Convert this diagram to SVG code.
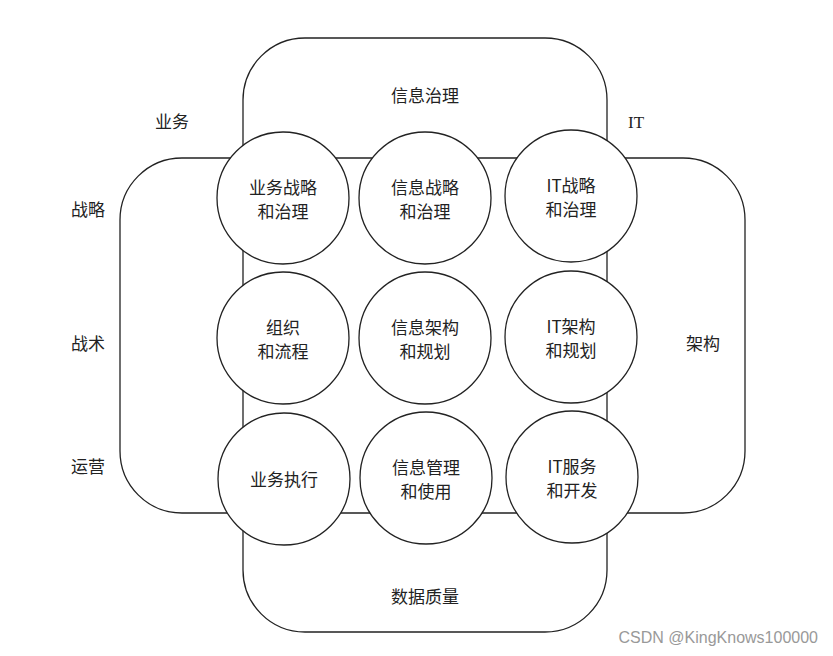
<svg xmlns="http://www.w3.org/2000/svg" width="833" height="656" viewBox="0 0 833 656">
<style>
.f{fill:none;stroke:#222;stroke-width:1.3}
.c{fill:#fff;stroke:#222;stroke-width:1.3}
text{font-family:"Noto Sans CJK SC","Liberation Serif",serif;font-size:17px;fill:#222;text-anchor:middle}
.w{font-family:"Liberation Sans",sans-serif;fill:#999;font-size:16px;text-anchor:end}
</style>
<rect width="833" height="656" fill="#fff"/>
<g id="frames">
<rect id="info" class="f" x="243" y="38" width="364" height="594" rx="62"/>
<rect id="rows" class="f" x="120" y="158" width="625" height="355" rx="62"/>
</g>
<g id="labels">
<text x="425" y="102">信息治理</text>
<text x="425" y="603">数据质量</text>
<text x="172" y="128">业务</text>
<text x="636" y="128" style="font-family:'Liberation Serif',serif">IT</text>
<text x="88" y="216">战略</text>
<text x="88" y="350">战术</text>
<text x="88" y="473">运营</text>
<text x="703" y="350">架构</text>
</g>
<g id="n1"><circle class="c" cx="283" cy="198" r="66"/><text x="283" y="194">业务战略</text><text x="283" y="218">和治理</text></g>
<g id="n2"><circle class="c" cx="425" cy="198" r="66"/><text x="425" y="194">信息战略</text><text x="425" y="218">和治理</text></g>
<g id="n3"><circle class="c" cx="571" cy="196" r="66"/><text x="571" y="192">IT战略</text><text x="571" y="216">和治理</text></g>
<g id="n4"><circle class="c" cx="283" cy="338" r="66"/><text x="283" y="334">组织</text><text x="283" y="358">和流程</text></g>
<g id="n5"><circle class="c" cx="425" cy="338" r="66"/><text x="425" y="334">信息架构</text><text x="425" y="358">和规划</text></g>
<g id="n6"><circle class="c" cx="571" cy="337" r="66"/><text x="571" y="333">IT架构</text><text x="571" y="357">和规划</text></g>
<g id="n7"><circle class="c" cx="284" cy="479" r="66"/><text x="284" y="486">业务执行</text></g>
<g id="n8"><circle class="c" cx="426" cy="478" r="66"/><text x="426" y="474">信息管理</text><text x="426" y="498">和使用</text></g>
<g id="n9"><circle class="c" cx="572" cy="477" r="66"/><text x="572" y="473">IT服务</text><text x="572" y="497">和开发</text></g>
<text class="w" x="818" y="643">CSDN @KingKnows100000</text>
</svg>
